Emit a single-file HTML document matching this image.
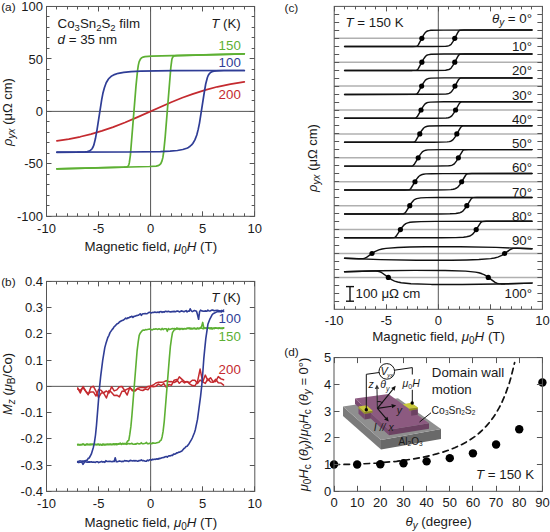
<!DOCTYPE html>
<html><head><meta charset="utf-8"><style>
html,body{margin:0;padding:0;background:#fff;}
svg{display:block;}
text{font-family:"Liberation Sans", sans-serif;}
</style></head><body>
<svg width="550" height="532" viewBox="0 0 550 532">
<rect width="550" height="532" fill="#fff"/>
<line x1="46.50" y1="111.39" x2="254.66" y2="111.39" stroke="#555" stroke-width="1" />
<line x1="150.58" y1="6.47" x2="150.58" y2="216.30" stroke="#555" stroke-width="1" />
<path d="M56.9,140.9 L68.8,139.1 L80.2,136.8 L91.0,134.1 L101.9,130.9 L113.1,127.1 L125.0,122.5 L137.0,117.4 L171.2,102.3 L182.2,97.8 L192.4,94.1 L204.9,90.1 L217.4,86.8 L230.5,84.1 L244.3,81.8" fill="none" stroke="#c42a2f" stroke-width="1.7" stroke-linejoin="round" stroke-linecap="round" />
<path d="M56.9,168.9 L123.9,167.2 L126.8,166.9 L127.7,166.5 L128.3,165.9 L128.9,164.5 L129.3,162.9 L130.4,155.1 L136.0,85.9 L137.5,71.0 L138.3,65.4 L139.1,61.9 L140.4,59.1 L141.8,57.7 L143.1,57.1 L145.0,56.7 L151.6,56.2 L244.3,53.8" fill="none" stroke="#5db033" stroke-width="1.7" stroke-linejoin="round" stroke-linecap="round" />
<path d="M56.9,168.9 L149.5,166.5 L156.2,166.1 L158.1,165.7 L159.3,165.1 L160.8,163.7 L162.0,160.9 L162.9,157.4 L163.7,151.8 L165.2,136.9 L170.8,67.7 L171.8,59.9 L172.2,58.3 L172.9,56.9 L173.5,56.3 L174.3,55.9 L177.2,55.6 L244.3,53.8" fill="none" stroke="#5db033" stroke-width="1.7" stroke-linejoin="round" stroke-linecap="round" />
<path d="M56.9,152.3 L77.3,152.2 L85.0,151.9 L87.3,151.6 L89.2,151.1 L90.6,150.2 L91.9,149.0 L92.9,147.3 L93.8,145.2 L95.4,138.8 L97.1,129.3 L101.7,99.6 L102.9,93.3 L104.4,87.8 L106.2,82.8 L108.3,79.3 L109.6,77.8 L111.0,76.5 L112.7,75.4 L114.4,74.6 L118.3,73.3 L123.7,72.3 L131.0,71.6 L140.8,71.2 L173.3,70.7 L244.3,70.5" fill="none" stroke="#2f3d96" stroke-width="1.7" stroke-linejoin="round" stroke-linecap="round" />
<path d="M56.9,152.2 L127.9,152.0 L160.4,151.6 L170.1,151.1 L177.4,150.5 L182.8,149.5 L186.8,148.2 L188.5,147.4 L190.1,146.2 L191.6,144.9 L192.8,143.5 L194.9,139.9 L196.8,135.0 L198.2,129.4 L199.5,123.1 L204.1,93.5 L205.7,84.0 L207.4,77.5 L208.2,75.5 L209.3,73.8 L210.5,72.5 L212.0,71.7 L213.9,71.2 L216.2,70.8 L223.9,70.5 L244.3,70.5" fill="none" stroke="#2f3d96" stroke-width="1.7" stroke-linejoin="round" stroke-linecap="round" />
<rect x="46.50" y="6.47" width="208.16" height="209.83" fill="none" stroke="#555" stroke-width="1"/>
<line x1="46.50" y1="216.30" x2="46.50" y2="211.30" stroke="#555" stroke-width="1.0" />
<line x1="46.50" y1="6.47" x2="46.50" y2="11.47" stroke="#555" stroke-width="1.0" />
<line x1="56.50" y1="216.30" x2="56.50" y2="213.30" stroke="#555" stroke-width="1.0" />
<line x1="56.50" y1="6.47" x2="56.50" y2="9.47" stroke="#555" stroke-width="1.0" />
<line x1="67.50" y1="216.30" x2="67.50" y2="213.30" stroke="#555" stroke-width="1.0" />
<line x1="67.50" y1="6.47" x2="67.50" y2="9.47" stroke="#555" stroke-width="1.0" />
<line x1="77.50" y1="216.30" x2="77.50" y2="213.30" stroke="#555" stroke-width="1.0" />
<line x1="77.50" y1="6.47" x2="77.50" y2="9.47" stroke="#555" stroke-width="1.0" />
<line x1="88.50" y1="216.30" x2="88.50" y2="213.30" stroke="#555" stroke-width="1.0" />
<line x1="88.50" y1="6.47" x2="88.50" y2="9.47" stroke="#555" stroke-width="1.0" />
<line x1="98.50" y1="216.30" x2="98.50" y2="211.30" stroke="#555" stroke-width="1.0" />
<line x1="98.50" y1="6.47" x2="98.50" y2="11.47" stroke="#555" stroke-width="1.0" />
<line x1="108.50" y1="216.30" x2="108.50" y2="213.30" stroke="#555" stroke-width="1.0" />
<line x1="108.50" y1="6.47" x2="108.50" y2="9.47" stroke="#555" stroke-width="1.0" />
<line x1="119.50" y1="216.30" x2="119.50" y2="213.30" stroke="#555" stroke-width="1.0" />
<line x1="119.50" y1="6.47" x2="119.50" y2="9.47" stroke="#555" stroke-width="1.0" />
<line x1="129.50" y1="216.30" x2="129.50" y2="213.30" stroke="#555" stroke-width="1.0" />
<line x1="129.50" y1="6.47" x2="129.50" y2="9.47" stroke="#555" stroke-width="1.0" />
<line x1="140.50" y1="216.30" x2="140.50" y2="213.30" stroke="#555" stroke-width="1.0" />
<line x1="140.50" y1="6.47" x2="140.50" y2="9.47" stroke="#555" stroke-width="1.0" />
<line x1="150.50" y1="216.30" x2="150.50" y2="211.30" stroke="#555" stroke-width="1.0" />
<line x1="150.50" y1="6.47" x2="150.50" y2="11.47" stroke="#555" stroke-width="1.0" />
<line x1="160.50" y1="216.30" x2="160.50" y2="213.30" stroke="#555" stroke-width="1.0" />
<line x1="160.50" y1="6.47" x2="160.50" y2="9.47" stroke="#555" stroke-width="1.0" />
<line x1="171.50" y1="216.30" x2="171.50" y2="213.30" stroke="#555" stroke-width="1.0" />
<line x1="171.50" y1="6.47" x2="171.50" y2="9.47" stroke="#555" stroke-width="1.0" />
<line x1="181.50" y1="216.30" x2="181.50" y2="213.30" stroke="#555" stroke-width="1.0" />
<line x1="181.50" y1="6.47" x2="181.50" y2="9.47" stroke="#555" stroke-width="1.0" />
<line x1="192.50" y1="216.30" x2="192.50" y2="213.30" stroke="#555" stroke-width="1.0" />
<line x1="192.50" y1="6.47" x2="192.50" y2="9.47" stroke="#555" stroke-width="1.0" />
<line x1="202.50" y1="216.30" x2="202.50" y2="211.30" stroke="#555" stroke-width="1.0" />
<line x1="202.50" y1="6.47" x2="202.50" y2="11.47" stroke="#555" stroke-width="1.0" />
<line x1="213.50" y1="216.30" x2="213.50" y2="213.30" stroke="#555" stroke-width="1.0" />
<line x1="213.50" y1="6.47" x2="213.50" y2="9.47" stroke="#555" stroke-width="1.0" />
<line x1="223.50" y1="216.30" x2="223.50" y2="213.30" stroke="#555" stroke-width="1.0" />
<line x1="223.50" y1="6.47" x2="223.50" y2="9.47" stroke="#555" stroke-width="1.0" />
<line x1="233.50" y1="216.30" x2="233.50" y2="213.30" stroke="#555" stroke-width="1.0" />
<line x1="233.50" y1="6.47" x2="233.50" y2="9.47" stroke="#555" stroke-width="1.0" />
<line x1="244.50" y1="216.30" x2="244.50" y2="213.30" stroke="#555" stroke-width="1.0" />
<line x1="244.50" y1="6.47" x2="244.50" y2="9.47" stroke="#555" stroke-width="1.0" />
<line x1="254.50" y1="216.30" x2="254.50" y2="211.30" stroke="#555" stroke-width="1.0" />
<line x1="254.50" y1="6.47" x2="254.50" y2="11.47" stroke="#555" stroke-width="1.0" />
<line x1="46.50" y1="216.50" x2="51.50" y2="216.50" stroke="#555" stroke-width="1.0" />
<line x1="254.66" y1="216.50" x2="249.66" y2="216.50" stroke="#555" stroke-width="1.0" />
<line x1="46.50" y1="205.50" x2="49.50" y2="205.50" stroke="#555" stroke-width="1.0" />
<line x1="254.66" y1="205.50" x2="251.66" y2="205.50" stroke="#555" stroke-width="1.0" />
<line x1="46.50" y1="195.50" x2="49.50" y2="195.50" stroke="#555" stroke-width="1.0" />
<line x1="254.66" y1="195.50" x2="251.66" y2="195.50" stroke="#555" stroke-width="1.0" />
<line x1="46.50" y1="184.50" x2="49.50" y2="184.50" stroke="#555" stroke-width="1.0" />
<line x1="254.66" y1="184.50" x2="251.66" y2="184.50" stroke="#555" stroke-width="1.0" />
<line x1="46.50" y1="174.50" x2="49.50" y2="174.50" stroke="#555" stroke-width="1.0" />
<line x1="254.66" y1="174.50" x2="251.66" y2="174.50" stroke="#555" stroke-width="1.0" />
<line x1="46.50" y1="163.50" x2="51.50" y2="163.50" stroke="#555" stroke-width="1.0" />
<line x1="254.66" y1="163.50" x2="249.66" y2="163.50" stroke="#555" stroke-width="1.0" />
<line x1="46.50" y1="153.50" x2="49.50" y2="153.50" stroke="#555" stroke-width="1.0" />
<line x1="254.66" y1="153.50" x2="251.66" y2="153.50" stroke="#555" stroke-width="1.0" />
<line x1="46.50" y1="142.50" x2="49.50" y2="142.50" stroke="#555" stroke-width="1.0" />
<line x1="254.66" y1="142.50" x2="251.66" y2="142.50" stroke="#555" stroke-width="1.0" />
<line x1="46.50" y1="132.50" x2="49.50" y2="132.50" stroke="#555" stroke-width="1.0" />
<line x1="254.66" y1="132.50" x2="251.66" y2="132.50" stroke="#555" stroke-width="1.0" />
<line x1="46.50" y1="121.50" x2="49.50" y2="121.50" stroke="#555" stroke-width="1.0" />
<line x1="254.66" y1="121.50" x2="251.66" y2="121.50" stroke="#555" stroke-width="1.0" />
<line x1="46.50" y1="111.50" x2="51.50" y2="111.50" stroke="#555" stroke-width="1.0" />
<line x1="254.66" y1="111.50" x2="249.66" y2="111.50" stroke="#555" stroke-width="1.0" />
<line x1="46.50" y1="100.50" x2="49.50" y2="100.50" stroke="#555" stroke-width="1.0" />
<line x1="254.66" y1="100.50" x2="251.66" y2="100.50" stroke="#555" stroke-width="1.0" />
<line x1="46.50" y1="90.50" x2="49.50" y2="90.50" stroke="#555" stroke-width="1.0" />
<line x1="254.66" y1="90.50" x2="251.66" y2="90.50" stroke="#555" stroke-width="1.0" />
<line x1="46.50" y1="79.50" x2="49.50" y2="79.50" stroke="#555" stroke-width="1.0" />
<line x1="254.66" y1="79.50" x2="251.66" y2="79.50" stroke="#555" stroke-width="1.0" />
<line x1="46.50" y1="69.50" x2="49.50" y2="69.50" stroke="#555" stroke-width="1.0" />
<line x1="254.66" y1="69.50" x2="251.66" y2="69.50" stroke="#555" stroke-width="1.0" />
<line x1="46.50" y1="58.50" x2="51.50" y2="58.50" stroke="#555" stroke-width="1.0" />
<line x1="254.66" y1="58.50" x2="249.66" y2="58.50" stroke="#555" stroke-width="1.0" />
<line x1="46.50" y1="48.50" x2="49.50" y2="48.50" stroke="#555" stroke-width="1.0" />
<line x1="254.66" y1="48.50" x2="251.66" y2="48.50" stroke="#555" stroke-width="1.0" />
<line x1="46.50" y1="37.50" x2="49.50" y2="37.50" stroke="#555" stroke-width="1.0" />
<line x1="254.66" y1="37.50" x2="251.66" y2="37.50" stroke="#555" stroke-width="1.0" />
<line x1="46.50" y1="27.50" x2="49.50" y2="27.50" stroke="#555" stroke-width="1.0" />
<line x1="254.66" y1="27.50" x2="251.66" y2="27.50" stroke="#555" stroke-width="1.0" />
<line x1="46.50" y1="16.50" x2="49.50" y2="16.50" stroke="#555" stroke-width="1.0" />
<line x1="254.66" y1="16.50" x2="251.66" y2="16.50" stroke="#555" stroke-width="1.0" />
<line x1="46.50" y1="6.50" x2="51.50" y2="6.50" stroke="#555" stroke-width="1.0" />
<line x1="254.66" y1="6.50" x2="249.66" y2="6.50" stroke="#555" stroke-width="1.0" />
<text x="43.00" y="11.07" font-size="13" text-anchor="end" fill="#1a1a1a" >100</text>
<text x="43.00" y="63.53" font-size="13" text-anchor="end" fill="#1a1a1a" >50</text>
<text x="43.00" y="115.98" font-size="13" text-anchor="end" fill="#1a1a1a" >0</text>
<text x="43.00" y="168.44" font-size="13" text-anchor="end" fill="#1a1a1a" >-50</text>
<text x="43.00" y="220.90" font-size="13" text-anchor="end" fill="#1a1a1a" >-100</text>
<text x="46.50" y="232.60" font-size="13" text-anchor="middle" fill="#1a1a1a" >-10</text>
<text x="98.54" y="232.60" font-size="13" text-anchor="middle" fill="#1a1a1a" >-5</text>
<text x="150.58" y="232.60" font-size="13" text-anchor="middle" fill="#1a1a1a" >0</text>
<text x="202.62" y="232.60" font-size="13" text-anchor="middle" fill="#1a1a1a" >5</text>
<text x="254.66" y="232.60" font-size="13" text-anchor="middle" fill="#1a1a1a" >10</text>
<text x="150.80" y="250.90" font-size="13.3" text-anchor="middle" fill="#1a1a1a">Magnetic field, <tspan font-style="italic">μ</tspan><tspan font-size="10" dy="3">0</tspan><tspan dy="-3" font-style="italic">H</tspan> (T)</text>
<text transform="translate(11.9,112) rotate(-90)" font-size="13" text-anchor="middle" fill="#1a1a1a"><tspan font-style="italic">ρ</tspan><tspan font-size="10" dy="3" font-style="italic">yx</tspan><tspan dy="-3"> (μΩ cm)</tspan></text>
<text x="1.20" y="10.90" font-size="11.8" text-anchor="start" fill="#1a1a1a" >(a)</text>
<text x="57.60" y="27.60" font-size="13.3" text-anchor="start" fill="#1a1a1a" >Co<tspan font-size="9.5" dy="3">3</tspan><tspan dy="-3">Sn<tspan font-size="9.5" dy="3">2</tspan><tspan dy="-3">S<tspan font-size="9.5" dy="3">2</tspan><tspan dy="-3"> film</tspan></tspan></tspan></text>
<text x="57.60" y="44.40" font-size="13.3" text-anchor="start" fill="#1a1a1a" ><tspan font-style="italic">d</tspan> = 35 nm</text>
<text x="240.80" y="27.60" font-size="13.3" text-anchor="end" fill="#1a1a1a" ><tspan font-style="italic">T</tspan> (K)</text>
<text x="240.80" y="49.70" font-size="13.3" text-anchor="end" fill="#5db033" >150</text>
<text x="240.80" y="67.20" font-size="13.3" text-anchor="end" fill="#2f3d96" >100</text>
<text x="240.80" y="99.20" font-size="13.3" text-anchor="end" fill="#c42a2f" >200</text>
<line x1="46.50" y1="386.35" x2="254.80" y2="386.35" stroke="#555" stroke-width="1" />
<line x1="150.65" y1="281.40" x2="150.65" y2="491.30" stroke="#555" stroke-width="1" />
<path d="M77.7,387.9 L80.3,393.0 L83.0,386.5 L85.6,390.9 L88.2,393.7 L90.8,391.9 L93.4,391.9 L96.0,396.0 L98.6,389.4 L101.2,390.4 L103.8,393.3 L106.4,398.0 L109.0,390.6 L111.6,392.4 L114.2,395.5 L116.8,395.2 L119.4,396.9 L122.0,391.3 L124.6,390.9 L127.2,395.0 L129.8,387.3 L132.4,390.7 L135.0,391.0 L137.6,388.8 L140.2,389.9 L142.8,390.5 L145.4,389.0 L148.0,389.7 L150.7,386.3 L153.3,386.7 L155.9,386.2 L158.5,384.1 L161.1,385.7 L163.7,383.5 L166.3,387.3 L168.9,384.5 L171.5,385.2 L174.1,380.2 L176.7,379.5 L179.3,383.3 L181.9,381.0 L184.5,382.9 L187.1,381.5 L189.7,383.9 L192.3,385.6 L194.9,385.8 L197.5,381.7 L200.1,369.1 L202.7,381.9 L205.3,383.4 L207.9,378.9 L210.5,382.0 L213.1,382.2 L215.7,379.3 L218.3,382.7 L221.0,383.0 L223.6,385.1" fill="none" stroke="#c42a2f" stroke-width="1.5" stroke-linejoin="round" stroke-linecap="round" />
<path d="M77.7,389.1 L80.3,390.5 L83.0,387.5 L88.2,394.8 L90.8,387.4 L93.4,386.3 L96.0,391.2 L98.6,397.6 L101.2,393.1 L103.8,392.7 L106.4,391.0 L109.0,393.0 L111.6,386.7 L114.2,390.9 L116.8,389.9 L119.4,386.7 L122.0,386.5 L124.6,390.5 L127.2,389.1 L129.8,387.9 L132.4,389.9 L135.0,390.6 L137.6,388.3 L140.2,387.6 L142.8,387.4 L145.4,387.8 L148.0,386.5 L150.7,386.0 L153.3,385.0 L155.9,383.0 L158.5,382.2 L161.1,382.3 L163.7,381.9 L166.3,380.7 L168.9,381.7 L171.5,381.6 L174.1,382.5 L176.7,381.3 L179.3,376.9 L184.5,381.6 L187.1,381.8 L189.7,382.5 L192.3,380.2 L194.9,380.2 L197.5,383.5 L200.1,380.0 L202.7,381.9 L205.3,375.1 L207.9,380.6 L210.5,377.7 L213.1,381.7 L215.7,381.4 L218.3,376.6 L221.0,378.9 L223.6,379.8" fill="none" stroke="#c42a2f" stroke-width="1.5" stroke-linejoin="round" stroke-linecap="round" />
<path d="M77.7,445.0 L78.8,444.5 L81.9,444.8 L83.0,444.0 L84.0,444.7 L85.0,444.9 L86.1,444.4 L88.2,444.6 L89.2,444.3 L91.3,444.4 L92.3,444.2 L94.4,444.7 L96.5,444.7 L97.5,444.4 L99.6,445.1 L100.7,444.4 L101.7,444.9 L102.7,445.0 L103.8,444.3 L104.8,444.6 L105.9,444.2 L107.9,444.7 L109.0,444.7 L111.1,444.4 L112.1,444.5 L113.2,444.3 L114.2,444.7 L115.2,444.1 L116.3,444.7 L118.4,443.8 L120.4,443.4 L121.5,444.4 L122.5,443.7 L123.6,443.5 L124.6,443.5 L125.7,443.8 L126.7,442.7 L127.7,441.0 L128.8,440.4 L129.8,434.4 L130.9,426.4 L131.9,415.6 L137.1,350.8 L138.2,341.8 L139.2,335.3 L140.2,333.2 L141.3,331.7 L142.3,330.6 L143.4,330.1 L144.4,330.3 L145.4,329.5 L146.5,329.8 L149.6,329.0 L150.6,329.3 L151.7,329.9 L152.7,329.7 L153.8,329.0 L154.8,329.3 L155.9,328.8 L157.9,329.4 L159.0,328.8 L161.1,329.7 L162.1,328.4 L163.1,329.6 L164.2,328.8 L165.2,328.7 L166.3,328.9 L167.3,331.3 L168.4,328.6 L169.4,329.4 L170.4,329.3 L172.5,328.6 L173.6,328.8 L174.6,328.6 L175.6,328.9 L176.7,328.8 L177.7,329.1 L179.8,328.5 L180.9,328.8 L181.9,328.5 L182.9,328.8 L186.1,328.7 L187.1,328.4 L188.1,328.5 L189.2,328.0 L190.2,328.6 L191.3,328.6 L192.3,328.8 L194.4,328.2 L195.4,328.7 L197.5,328.2 L199.6,328.5 L200.6,328.0 L201.7,326.2 L202.7,322.4 L203.8,327.9 L204.8,327.9 L205.8,328.4 L206.9,328.4 L207.9,328.2 L209.0,328.3 L210.0,328.8 L211.1,327.8 L212.1,328.2 L213.1,328.0 L214.2,328.6 L215.2,327.8 L216.3,328.3 L217.3,328.2 L218.3,328.6 L219.4,328.2 L221.5,328.2 L222.5,328.0 L223.6,328.1" fill="none" stroke="#5db033" stroke-width="1.6" stroke-linejoin="round" stroke-linecap="round" />
<path d="M77.7,444.3 L78.8,444.7 L79.8,444.9 L83.0,444.2 L84.0,444.3 L85.0,445.1 L86.1,444.4 L87.1,444.1 L88.2,444.5 L89.2,444.7 L90.2,444.4 L91.3,444.6 L92.3,444.3 L93.4,444.5 L94.4,444.0 L96.5,444.6 L97.5,444.2 L98.6,444.1 L99.6,444.5 L100.7,444.5 L101.7,445.1 L102.7,444.0 L104.8,445.0 L105.9,444.8 L107.9,444.0 L109.0,444.2 L110.0,444.0 L111.1,444.5 L112.1,444.6 L113.2,443.9 L115.2,444.1 L116.3,443.7 L117.3,444.4 L118.4,444.2 L120.4,443.4 L121.5,444.0 L122.5,443.4 L123.6,444.1 L124.6,443.8 L125.7,443.9 L126.7,444.4 L127.7,443.8 L128.8,443.5 L129.8,443.9 L130.9,443.8 L131.9,443.3 L132.9,444.1 L134.0,444.2 L135.0,443.9 L136.1,444.1 L137.1,443.3 L139.2,443.9 L140.2,443.8 L141.3,442.7 L142.3,443.8 L143.4,443.8 L145.4,443.3 L146.5,442.4 L147.5,443.7 L148.6,443.8 L149.6,443.2 L150.6,443.3 L151.7,443.8 L152.7,442.9 L154.8,443.2 L155.9,443.1 L159.0,442.2 L160.0,440.9 L161.1,440.2 L162.1,436.9 L163.1,431.4 L164.2,421.9 L165.2,409.8 L169.4,357.6 L170.4,346.3 L171.5,338.3 L172.5,332.6 L174.6,329.4 L175.6,329.4 L176.7,328.1 L177.7,328.2 L179.8,329.5 L180.9,328.7 L181.9,328.7 L182.9,329.4 L184.0,328.6 L186.1,328.8 L187.1,328.3 L188.1,328.2 L189.2,328.6 L190.2,328.4 L192.3,328.6 L194.4,328.2 L196.5,329.0 L197.5,328.1 L198.6,328.8 L200.6,327.7 L202.7,328.6 L203.8,328.7 L204.8,327.8 L205.8,328.2 L207.9,327.9 L211.1,328.4 L212.1,329.1 L214.2,328.1 L216.3,328.0 L217.3,328.2 L219.4,327.9 L220.4,328.4 L221.5,328.2 L222.5,328.6 L223.6,327.8" fill="none" stroke="#5db033" stroke-width="1.6" stroke-linejoin="round" stroke-linecap="round" />
<path d="M77.7,461.6 L78.8,461.4 L79.8,460.9 L80.9,461.0 L81.9,461.3 L83.0,460.9 L84.0,461.6 L85.0,460.7 L86.1,460.4 L87.1,460.4 L88.2,458.3 L89.2,458.0 L91.3,454.2 L93.4,447.2 L94.4,442.6 L95.5,435.0 L96.5,425.2 L99.6,386.6 L100.7,376.2 L102.7,360.4 L104.8,347.6 L105.9,343.6 L107.9,337.3 L109.0,335.3 L110.0,332.6 L112.1,329.6 L113.2,328.4 L114.2,326.6 L115.2,325.9 L116.3,324.6 L117.3,323.7 L118.4,323.3 L119.4,322.0 L121.5,320.8 L123.6,320.0 L125.7,318.1 L126.7,318.8 L127.7,317.9 L128.8,317.9 L129.8,317.1 L130.9,316.9 L131.9,316.3 L132.9,317.5 L134.0,316.4 L135.0,316.3 L136.1,315.6 L137.1,315.6 L138.2,315.3 L140.2,313.8 L141.3,315.4 L142.3,314.1 L143.4,313.7 L145.4,313.5 L146.5,313.7 L147.5,313.4 L148.6,312.6 L149.6,312.3 L151.7,312.9 L152.7,312.4 L153.8,312.5 L154.8,312.1 L156.9,312.5 L157.9,312.1 L159.0,312.6 L160.0,311.7 L161.1,311.5 L162.1,312.4 L163.1,311.7 L164.2,312.2 L165.2,311.4 L166.3,311.4 L167.3,311.8 L168.4,311.3 L169.4,311.8 L170.4,311.9 L174.6,311.4 L175.6,311.7 L176.7,311.1 L177.7,311.0 L179.8,311.9 L180.9,311.1 L181.9,310.9 L184.0,311.8 L186.1,310.6 L187.1,311.9 L188.1,311.0 L189.2,311.2 L190.2,308.8 L191.3,310.9 L192.3,311.6 L194.4,310.5 L196.5,311.3 L197.5,314.8 L198.6,319.3 L199.6,311.6 L200.6,310.2 L201.7,310.9 L203.8,311.3 L205.8,310.9 L206.9,311.2 L207.9,310.1 L209.0,311.0 L210.0,311.0 L212.1,310.1 L213.1,310.1 L214.2,310.8 L215.2,310.5 L217.3,310.4 L218.3,310.5 L219.4,310.9 L220.4,311.1 L221.5,310.5 L222.5,311.0 L223.6,310.0" fill="none" stroke="#2f3d96" stroke-width="1.6" stroke-linejoin="round" stroke-linecap="round" />
<path d="M77.7,462.2 L78.8,462.6 L79.8,462.3 L81.9,462.2 L83.0,464.4 L85.0,461.3 L86.1,462.0 L87.1,462.1 L89.2,461.9 L90.2,462.1 L91.3,461.7 L92.3,462.3 L93.4,462.0 L95.5,462.4 L96.5,461.7 L97.5,461.7 L98.6,462.6 L101.7,461.4 L102.7,462.1 L103.8,461.8 L104.8,462.3 L105.9,460.7 L106.9,461.5 L110.0,461.3 L112.1,461.7 L113.2,461.3 L114.2,461.5 L115.2,457.8 L116.3,461.8 L117.3,461.7 L119.4,460.9 L121.5,461.6 L122.5,461.4 L123.6,461.5 L124.6,460.5 L125.7,460.9 L126.7,460.7 L128.8,461.4 L129.8,460.6 L130.9,460.4 L132.9,461.0 L134.0,460.5 L135.0,461.1 L136.1,460.6 L137.1,461.1 L138.2,461.2 L139.2,460.5 L140.2,460.6 L141.3,459.9 L142.3,460.7 L143.4,460.5 L145.4,461.2 L146.5,461.1 L147.5,460.1 L148.6,460.7 L149.6,459.7 L150.6,459.5 L151.7,460.1 L152.7,459.2 L153.8,459.6 L154.8,459.1 L155.9,459.4 L156.9,458.8 L157.9,459.3 L159.0,458.4 L160.0,458.6 L162.1,457.7 L164.2,457.4 L165.2,456.8 L166.3,456.5 L167.3,457.1 L168.4,456.0 L169.4,455.7 L170.4,455.9 L171.5,455.2 L172.5,455.5 L173.6,454.0 L174.6,454.3 L175.6,453.8 L176.7,452.8 L177.7,452.9 L178.8,452.1 L179.8,452.2 L180.9,451.4 L181.9,451.0 L184.0,448.5 L185.0,447.8 L186.1,446.5 L187.1,446.2 L189.2,443.4 L191.3,439.9 L192.3,438.0 L194.4,432.7 L195.4,429.4 L197.5,419.4 L200.6,396.2 L201.7,386.1 L202.7,374.0 L203.8,358.7 L204.8,348.4 L205.8,338.7 L207.9,324.3 L210.0,318.8 L212.1,314.8 L213.1,313.8 L217.3,311.6 L220.4,311.4 L221.5,311.9 L222.5,311.1 L223.6,311.5" fill="none" stroke="#2f3d96" stroke-width="1.6" stroke-linejoin="round" stroke-linecap="round" />
<rect x="46.50" y="281.40" width="208.30" height="209.90" fill="none" stroke="#555" stroke-width="1"/>
<line x1="46.50" y1="491.30" x2="46.50" y2="486.30" stroke="#555" stroke-width="1.0" />
<line x1="46.50" y1="281.40" x2="46.50" y2="286.40" stroke="#555" stroke-width="1.0" />
<line x1="56.50" y1="491.30" x2="56.50" y2="488.30" stroke="#555" stroke-width="1.0" />
<line x1="56.50" y1="281.40" x2="56.50" y2="284.40" stroke="#555" stroke-width="1.0" />
<line x1="67.50" y1="491.30" x2="67.50" y2="488.30" stroke="#555" stroke-width="1.0" />
<line x1="67.50" y1="281.40" x2="67.50" y2="284.40" stroke="#555" stroke-width="1.0" />
<line x1="77.50" y1="491.30" x2="77.50" y2="488.30" stroke="#555" stroke-width="1.0" />
<line x1="77.50" y1="281.40" x2="77.50" y2="284.40" stroke="#555" stroke-width="1.0" />
<line x1="88.50" y1="491.30" x2="88.50" y2="488.30" stroke="#555" stroke-width="1.0" />
<line x1="88.50" y1="281.40" x2="88.50" y2="284.40" stroke="#555" stroke-width="1.0" />
<line x1="98.50" y1="491.30" x2="98.50" y2="486.30" stroke="#555" stroke-width="1.0" />
<line x1="98.50" y1="281.40" x2="98.50" y2="286.40" stroke="#555" stroke-width="1.0" />
<line x1="108.50" y1="491.30" x2="108.50" y2="488.30" stroke="#555" stroke-width="1.0" />
<line x1="108.50" y1="281.40" x2="108.50" y2="284.40" stroke="#555" stroke-width="1.0" />
<line x1="119.50" y1="491.30" x2="119.50" y2="488.30" stroke="#555" stroke-width="1.0" />
<line x1="119.50" y1="281.40" x2="119.50" y2="284.40" stroke="#555" stroke-width="1.0" />
<line x1="129.50" y1="491.30" x2="129.50" y2="488.30" stroke="#555" stroke-width="1.0" />
<line x1="129.50" y1="281.40" x2="129.50" y2="284.40" stroke="#555" stroke-width="1.0" />
<line x1="140.50" y1="491.30" x2="140.50" y2="488.30" stroke="#555" stroke-width="1.0" />
<line x1="140.50" y1="281.40" x2="140.50" y2="284.40" stroke="#555" stroke-width="1.0" />
<line x1="150.50" y1="491.30" x2="150.50" y2="486.30" stroke="#555" stroke-width="1.0" />
<line x1="150.50" y1="281.40" x2="150.50" y2="286.40" stroke="#555" stroke-width="1.0" />
<line x1="161.50" y1="491.30" x2="161.50" y2="488.30" stroke="#555" stroke-width="1.0" />
<line x1="161.50" y1="281.40" x2="161.50" y2="284.40" stroke="#555" stroke-width="1.0" />
<line x1="171.50" y1="491.30" x2="171.50" y2="488.30" stroke="#555" stroke-width="1.0" />
<line x1="171.50" y1="281.40" x2="171.50" y2="284.40" stroke="#555" stroke-width="1.0" />
<line x1="181.50" y1="491.30" x2="181.50" y2="488.30" stroke="#555" stroke-width="1.0" />
<line x1="181.50" y1="281.40" x2="181.50" y2="284.40" stroke="#555" stroke-width="1.0" />
<line x1="192.50" y1="491.30" x2="192.50" y2="488.30" stroke="#555" stroke-width="1.0" />
<line x1="192.50" y1="281.40" x2="192.50" y2="284.40" stroke="#555" stroke-width="1.0" />
<line x1="202.50" y1="491.30" x2="202.50" y2="486.30" stroke="#555" stroke-width="1.0" />
<line x1="202.50" y1="281.40" x2="202.50" y2="286.40" stroke="#555" stroke-width="1.0" />
<line x1="213.50" y1="491.30" x2="213.50" y2="488.30" stroke="#555" stroke-width="1.0" />
<line x1="213.50" y1="281.40" x2="213.50" y2="284.40" stroke="#555" stroke-width="1.0" />
<line x1="223.50" y1="491.30" x2="223.50" y2="488.30" stroke="#555" stroke-width="1.0" />
<line x1="223.50" y1="281.40" x2="223.50" y2="284.40" stroke="#555" stroke-width="1.0" />
<line x1="233.50" y1="491.30" x2="233.50" y2="488.30" stroke="#555" stroke-width="1.0" />
<line x1="233.50" y1="281.40" x2="233.50" y2="284.40" stroke="#555" stroke-width="1.0" />
<line x1="244.50" y1="491.30" x2="244.50" y2="488.30" stroke="#555" stroke-width="1.0" />
<line x1="244.50" y1="281.40" x2="244.50" y2="284.40" stroke="#555" stroke-width="1.0" />
<line x1="254.50" y1="491.30" x2="254.50" y2="486.30" stroke="#555" stroke-width="1.0" />
<line x1="254.50" y1="281.40" x2="254.50" y2="286.40" stroke="#555" stroke-width="1.0" />
<line x1="46.50" y1="491.50" x2="51.50" y2="491.50" stroke="#555" stroke-width="1.0" />
<line x1="254.80" y1="491.50" x2="249.80" y2="491.50" stroke="#555" stroke-width="1.0" />
<line x1="46.50" y1="465.50" x2="51.50" y2="465.50" stroke="#555" stroke-width="1.0" />
<line x1="254.80" y1="465.50" x2="249.80" y2="465.50" stroke="#555" stroke-width="1.0" />
<line x1="46.50" y1="438.50" x2="51.50" y2="438.50" stroke="#555" stroke-width="1.0" />
<line x1="254.80" y1="438.50" x2="249.80" y2="438.50" stroke="#555" stroke-width="1.0" />
<line x1="46.50" y1="412.50" x2="51.50" y2="412.50" stroke="#555" stroke-width="1.0" />
<line x1="254.80" y1="412.50" x2="249.80" y2="412.50" stroke="#555" stroke-width="1.0" />
<line x1="46.50" y1="386.50" x2="51.50" y2="386.50" stroke="#555" stroke-width="1.0" />
<line x1="254.80" y1="386.50" x2="249.80" y2="386.50" stroke="#555" stroke-width="1.0" />
<line x1="46.50" y1="360.50" x2="51.50" y2="360.50" stroke="#555" stroke-width="1.0" />
<line x1="254.80" y1="360.50" x2="249.80" y2="360.50" stroke="#555" stroke-width="1.0" />
<line x1="46.50" y1="333.50" x2="51.50" y2="333.50" stroke="#555" stroke-width="1.0" />
<line x1="254.80" y1="333.50" x2="249.80" y2="333.50" stroke="#555" stroke-width="1.0" />
<line x1="46.50" y1="307.50" x2="51.50" y2="307.50" stroke="#555" stroke-width="1.0" />
<line x1="254.80" y1="307.50" x2="249.80" y2="307.50" stroke="#555" stroke-width="1.0" />
<line x1="46.50" y1="281.50" x2="51.50" y2="281.50" stroke="#555" stroke-width="1.0" />
<line x1="254.80" y1="281.50" x2="249.80" y2="281.50" stroke="#555" stroke-width="1.0" />
<text x="43.00" y="495.90" font-size="13" text-anchor="end" fill="#1a1a1a" >-0.4</text>
<text x="43.00" y="469.66" font-size="13" text-anchor="end" fill="#1a1a1a" >-0.3</text>
<text x="43.00" y="443.43" font-size="13" text-anchor="end" fill="#1a1a1a" >-0.2</text>
<text x="43.00" y="417.19" font-size="13" text-anchor="end" fill="#1a1a1a" >-0.1</text>
<text x="43.00" y="390.95" font-size="13" text-anchor="end" fill="#1a1a1a" >0</text>
<text x="43.00" y="364.71" font-size="13" text-anchor="end" fill="#1a1a1a" >0.1</text>
<text x="43.00" y="338.48" font-size="13" text-anchor="end" fill="#1a1a1a" >0.2</text>
<text x="43.00" y="312.24" font-size="13" text-anchor="end" fill="#1a1a1a" >0.3</text>
<text x="43.00" y="286.00" font-size="13" text-anchor="end" fill="#1a1a1a" >0.4</text>
<text x="46.50" y="508.00" font-size="13" text-anchor="middle" fill="#1a1a1a" >-10</text>
<text x="98.58" y="508.00" font-size="13" text-anchor="middle" fill="#1a1a1a" >-5</text>
<text x="150.65" y="508.00" font-size="13" text-anchor="middle" fill="#1a1a1a" >0</text>
<text x="202.73" y="508.00" font-size="13" text-anchor="middle" fill="#1a1a1a" >5</text>
<text x="254.80" y="508.00" font-size="13" text-anchor="middle" fill="#1a1a1a" >10</text>
<text x="150.80" y="526.60" font-size="13.3" text-anchor="middle" fill="#1a1a1a">Magnetic field, <tspan font-style="italic">μ</tspan><tspan font-size="10" dy="3">0</tspan><tspan dy="-3" font-style="italic">H</tspan> (T)</text>
<text transform="translate(12.4,384) rotate(-90)" font-size="13" text-anchor="middle" fill="#1a1a1a"><tspan font-style="italic">M</tspan><tspan font-size="10" dy="3" font-style="italic">z</tspan><tspan dy="-3"> (</tspan><tspan font-style="italic">μ</tspan><tspan font-size="10" dy="3">B</tspan><tspan dy="-3">/Co)</tspan></text>
<text x="1.20" y="286.00" font-size="11.8" text-anchor="start" fill="#1a1a1a" >(b)</text>
<text x="240.80" y="301.80" font-size="13.3" text-anchor="end" fill="#1a1a1a" ><tspan font-style="italic">T</tspan> (K)</text>
<text x="240.80" y="323.30" font-size="13.3" text-anchor="end" fill="#2f3d96" >100</text>
<text x="240.80" y="341.40" font-size="13.3" text-anchor="end" fill="#5db033" >150</text>
<text x="240.80" y="373.90" font-size="13.3" text-anchor="end" fill="#c42a2f" >200</text>
<line x1="334.20" y1="38.28" x2="542.40" y2="38.28" stroke="#b0b0b0" stroke-width="1.5" />
<line x1="334.20" y1="62.20" x2="542.40" y2="62.20" stroke="#b0b0b0" stroke-width="1.5" />
<line x1="334.20" y1="86.11" x2="542.40" y2="86.11" stroke="#b0b0b0" stroke-width="1.5" />
<line x1="334.20" y1="110.02" x2="542.40" y2="110.02" stroke="#b0b0b0" stroke-width="1.5" />
<line x1="334.20" y1="133.94" x2="542.40" y2="133.94" stroke="#b0b0b0" stroke-width="1.5" />
<line x1="334.20" y1="157.85" x2="542.40" y2="157.85" stroke="#b0b0b0" stroke-width="1.5" />
<line x1="334.20" y1="181.76" x2="542.40" y2="181.76" stroke="#b0b0b0" stroke-width="1.5" />
<line x1="334.20" y1="205.68" x2="542.40" y2="205.68" stroke="#b0b0b0" stroke-width="1.5" />
<line x1="334.20" y1="229.59" x2="542.40" y2="229.59" stroke="#b0b0b0" stroke-width="1.5" />
<line x1="334.20" y1="253.50" x2="542.40" y2="253.50" stroke="#b0b0b0" stroke-width="1.5" />
<line x1="334.20" y1="277.42" x2="542.40" y2="277.42" stroke="#b0b0b0" stroke-width="1.5" />
<line x1="438.30" y1="6.40" x2="438.30" y2="309.30" stroke="#555" stroke-width="1" />
<path d="M344.6,46.5 L412.7,46.5 L416.4,46.4 L417.5,45.9 L418.3,44.9 L423.5,35.2 L425.2,32.7 L426.2,31.7 L427.5,31.0 L428.9,30.6 L430.8,30.3 L443.7,30.1 L532.0,30.0" fill="none" stroke="#111" stroke-width="1.45" stroke-linejoin="round" stroke-linecap="round" />
<path d="M344.6,46.5 L432.9,46.5 L445.8,46.2 L447.7,46.0 L449.1,45.6 L450.4,44.9 L451.4,43.9 L453.1,41.4 L458.3,31.7 L459.1,30.7 L460.2,30.2 L463.9,30.0 L532.0,30.0" fill="none" stroke="#111" stroke-width="1.45" stroke-linejoin="round" stroke-linecap="round" />
<circle cx="421.85" cy="38.28" r="2.6" fill="#000"/>
<circle cx="454.75" cy="38.28" r="2.6" fill="#000"/>
<path d="M344.6,70.4 L412.3,70.4 L416.2,70.3 L417.3,69.9 L418.3,68.7 L423.5,59.1 L425.4,56.5 L426.4,55.5 L427.7,54.9 L431.0,54.2 L444.1,54.0 L532.0,53.9" fill="none" stroke="#111" stroke-width="1.45" stroke-linejoin="round" stroke-linecap="round" />
<path d="M344.6,70.4 L432.5,70.4 L445.6,70.2 L448.9,69.5 L450.2,68.9 L451.2,67.9 L453.1,65.2 L458.3,55.7 L459.3,54.5 L460.4,54.1 L464.3,53.9 L532.0,53.9" fill="none" stroke="#111" stroke-width="1.45" stroke-linejoin="round" stroke-linecap="round" />
<circle cx="421.85" cy="62.20" r="2.6" fill="#000"/>
<circle cx="454.75" cy="62.20" r="2.6" fill="#000"/>
<path d="M344.6,94.4 L415.8,94.2 L416.9,93.9 L417.9,92.8 L423.3,83.1 L425.2,80.4 L426.2,79.5 L427.5,78.9 L428.9,78.4 L431.0,78.1 L444.3,77.9 L532.0,77.9" fill="none" stroke="#111" stroke-width="1.45" stroke-linejoin="round" stroke-linecap="round" />
<path d="M344.6,94.4 L432.3,94.3 L445.6,94.1 L447.7,93.8 L449.1,93.4 L450.4,92.7 L451.4,91.8 L453.3,89.1 L458.7,79.4 L459.7,78.4 L460.8,78.0 L532.0,77.9" fill="none" stroke="#111" stroke-width="1.45" stroke-linejoin="round" stroke-linecap="round" />
<circle cx="421.64" cy="86.11" r="2.6" fill="#000"/>
<circle cx="454.96" cy="86.11" r="2.6" fill="#000"/>
<path d="M344.6,118.3 L411.2,118.3 L415.2,118.1 L416.2,117.7 L417.3,116.6 L422.7,107.1 L424.6,104.4 L425.6,103.5 L426.8,102.8 L428.3,102.4 L430.4,102.1 L443.7,101.8 L532.0,101.8" fill="none" stroke="#111" stroke-width="1.45" stroke-linejoin="round" stroke-linecap="round" />
<path d="M344.6,118.3 L432.9,118.3 L446.2,118.0 L448.3,117.7 L449.8,117.2 L451.0,116.5 L452.0,115.6 L453.9,112.9 L459.3,103.5 L460.4,102.3 L461.4,101.9 L465.4,101.8 L532.0,101.8" fill="none" stroke="#111" stroke-width="1.45" stroke-linejoin="round" stroke-linecap="round" />
<circle cx="421.02" cy="110.02" r="2.6" fill="#000"/>
<circle cx="455.58" cy="110.02" r="2.6" fill="#000"/>
<path d="M344.6,142.2 L409.8,142.2 L413.7,142.1 L414.8,141.7 L415.8,140.7 L421.6,130.7 L423.5,128.2 L424.6,127.3 L425.8,126.7 L427.3,126.3 L429.3,126.0 L442.9,125.7 L532.0,125.7" fill="none" stroke="#111" stroke-width="1.45" stroke-linejoin="round" stroke-linecap="round" />
<path d="M344.6,142.2 L433.7,142.2 L447.3,141.9 L449.3,141.6 L450.8,141.2 L452.0,140.5 L453.1,139.6 L455.0,137.1 L460.8,127.2 L461.8,126.2 L462.9,125.8 L466.8,125.7 L532.0,125.7" fill="none" stroke="#111" stroke-width="1.45" stroke-linejoin="round" stroke-linecap="round" />
<circle cx="419.77" cy="133.94" r="2.6" fill="#000"/>
<circle cx="456.83" cy="133.94" r="2.6" fill="#000"/>
<path d="M344.6,166.1 L408.1,166.1 L412.1,166.0 L413.1,165.6 L414.1,164.6 L420.2,154.6 L422.1,152.1 L423.1,151.3 L424.4,150.6 L425.8,150.2 L427.9,149.9 L441.6,149.6 L532.0,149.6" fill="none" stroke="#111" stroke-width="1.45" stroke-linejoin="round" stroke-linecap="round" />
<path d="M344.6,166.1 L435.0,166.1 L448.7,165.8 L450.8,165.5 L452.2,165.1 L453.5,164.4 L454.5,163.6 L456.4,161.1 L462.5,151.1 L463.5,150.1 L464.5,149.7 L468.5,149.6 L532.0,149.6" fill="none" stroke="#111" stroke-width="1.45" stroke-linejoin="round" stroke-linecap="round" />
<circle cx="418.21" cy="157.85" r="2.6" fill="#000"/>
<circle cx="458.39" cy="157.85" r="2.6" fill="#000"/>
<path d="M344.6,190.0 L404.8,190.0 L408.7,189.9 L409.8,189.5 L410.8,188.5 L416.6,179.1 L418.7,176.5 L420.0,175.5 L421.4,174.8 L423.3,174.3 L425.8,173.9 L431.6,173.7 L442.7,173.6 L532.0,173.5" fill="none" stroke="#111" stroke-width="1.45" stroke-linejoin="round" stroke-linecap="round" />
<path d="M344.6,190.0 L433.9,190.0 L445.0,189.9 L450.8,189.6 L453.3,189.3 L455.2,188.7 L456.6,188.0 L457.9,187.1 L460.0,184.5 L465.8,175.0 L466.8,174.0 L467.9,173.7 L471.8,173.5 L532.0,173.5" fill="none" stroke="#111" stroke-width="1.45" stroke-linejoin="round" stroke-linecap="round" />
<circle cx="414.98" cy="181.76" r="2.6" fill="#000"/>
<circle cx="461.62" cy="181.76" r="2.6" fill="#000"/>
<path d="M344.6,213.9 L399.6,213.9 L403.5,213.7 L404.6,213.3 L405.6,212.3 L411.4,203.0 L413.7,200.3 L415.0,199.3 L416.6,198.6 L420.8,197.9 L426.6,197.6 L438.1,197.5 L532.0,197.4" fill="none" stroke="#111" stroke-width="1.45" stroke-linejoin="round" stroke-linecap="round" />
<path d="M344.6,213.9 L438.5,213.9 L450.0,213.8 L455.8,213.5 L460.0,212.7 L461.6,212.0 L462.9,211.1 L465.2,208.3 L471.0,199.1 L472.0,198.0 L473.1,197.6 L477.0,197.4 L532.0,197.4" fill="none" stroke="#111" stroke-width="1.45" stroke-linejoin="round" stroke-linecap="round" />
<circle cx="409.78" cy="205.68" r="2.6" fill="#000"/>
<circle cx="466.82" cy="205.68" r="2.6" fill="#000"/>
<path d="M344.6,237.8 L390.4,237.8 L394.2,237.6 L395.2,237.2 L396.2,236.1 L401.9,227.4 L404.2,224.8 L405.8,223.6 L407.7,222.9 L410.0,222.3 L413.1,222.0 L420.8,221.6 L435.2,221.4 L532.0,221.3" fill="none" stroke="#111" stroke-width="1.45" stroke-linejoin="round" stroke-linecap="round" />
<path d="M344.6,237.8 L441.4,237.7 L455.8,237.6 L463.5,237.2 L466.6,236.8 L468.9,236.3 L470.8,235.5 L472.4,234.4 L474.7,231.8 L480.4,223.1 L481.4,222.0 L482.4,221.6 L486.2,221.3 L532.0,221.3" fill="none" stroke="#111" stroke-width="1.45" stroke-linejoin="round" stroke-linecap="round" />
<circle cx="400.41" cy="229.59" r="2.6" fill="#000"/>
<circle cx="476.19" cy="229.59" r="2.6" fill="#000"/>
<path d="M344.6,258.2 L359.0,258.8 L363.3,258.6 L364.8,258.2 L366.5,257.3 L374.8,251.6 L378.8,249.9 L382.1,249.0 L386.0,248.4 L397.7,247.5 L409.8,247.0 L425.2,246.7 L460.4,246.7 L496.0,247.4 L532.0,248.8" fill="none" stroke="#111" stroke-width="1.45" stroke-linejoin="round" stroke-linecap="round" />
<path d="M344.6,258.2 L380.6,259.6 L416.2,260.3 L451.4,260.3 L466.8,260.0 L478.9,259.5 L490.6,258.6 L494.5,258.0 L497.8,257.1 L501.8,255.4 L510.1,249.7 L511.8,248.8 L513.3,248.4 L517.6,248.2 L532.0,248.8" fill="none" stroke="#111" stroke-width="1.45" stroke-linejoin="round" stroke-linecap="round" />
<circle cx="371.99" cy="253.50" r="2.6" fill="#000"/>
<circle cx="504.61" cy="253.50" r="2.6" fill="#000"/>
<path d="M344.6,271.7 L371.5,271.0 L375.6,271.0 L378.1,271.2 L379.8,271.7 L381.5,272.5 L390.4,278.9 L392.5,280.1 L394.6,281.1 L397.7,282.0 L401.2,282.7 L411.0,283.7 L431.4,284.4 L462.2,284.5 L496.6,284.0 L532.0,283.1" fill="none" stroke="#111" stroke-width="1.45" stroke-linejoin="round" stroke-linecap="round" />
<path d="M344.6,271.8 L380.0,270.8 L414.4,270.4 L445.2,270.5 L465.6,271.1 L475.4,272.1 L478.9,272.8 L482.0,273.8 L484.1,274.7 L486.2,275.9 L495.1,282.4 L496.8,283.2 L498.5,283.6 L501.0,283.9 L505.1,283.9 L532.0,283.1" fill="none" stroke="#111" stroke-width="1.45" stroke-linejoin="round" stroke-linecap="round" />
<circle cx="388.33" cy="277.42" r="2.6" fill="#000"/>
<circle cx="488.27" cy="277.42" r="2.6" fill="#000"/>
<rect x="334.20" y="6.40" width="208.20" height="302.90" fill="none" stroke="#555" stroke-width="1"/>
<line x1="334.50" y1="309.30" x2="334.50" y2="304.30" stroke="#555" stroke-width="1.0" />
<line x1="334.50" y1="6.40" x2="334.50" y2="11.40" stroke="#555" stroke-width="1.0" />
<line x1="344.50" y1="309.30" x2="344.50" y2="306.30" stroke="#555" stroke-width="1.0" />
<line x1="344.50" y1="6.40" x2="344.50" y2="9.40" stroke="#555" stroke-width="1.0" />
<line x1="355.50" y1="309.30" x2="355.50" y2="306.30" stroke="#555" stroke-width="1.0" />
<line x1="355.50" y1="6.40" x2="355.50" y2="9.40" stroke="#555" stroke-width="1.0" />
<line x1="365.50" y1="309.30" x2="365.50" y2="306.30" stroke="#555" stroke-width="1.0" />
<line x1="365.50" y1="6.40" x2="365.50" y2="9.40" stroke="#555" stroke-width="1.0" />
<line x1="375.50" y1="309.30" x2="375.50" y2="306.30" stroke="#555" stroke-width="1.0" />
<line x1="375.50" y1="6.40" x2="375.50" y2="9.40" stroke="#555" stroke-width="1.0" />
<line x1="386.50" y1="309.30" x2="386.50" y2="304.30" stroke="#555" stroke-width="1.0" />
<line x1="386.50" y1="6.40" x2="386.50" y2="11.40" stroke="#555" stroke-width="1.0" />
<line x1="396.50" y1="309.30" x2="396.50" y2="306.30" stroke="#555" stroke-width="1.0" />
<line x1="396.50" y1="6.40" x2="396.50" y2="9.40" stroke="#555" stroke-width="1.0" />
<line x1="407.50" y1="309.30" x2="407.50" y2="306.30" stroke="#555" stroke-width="1.0" />
<line x1="407.50" y1="6.40" x2="407.50" y2="9.40" stroke="#555" stroke-width="1.0" />
<line x1="417.50" y1="309.30" x2="417.50" y2="306.30" stroke="#555" stroke-width="1.0" />
<line x1="417.50" y1="6.40" x2="417.50" y2="9.40" stroke="#555" stroke-width="1.0" />
<line x1="427.50" y1="309.30" x2="427.50" y2="306.30" stroke="#555" stroke-width="1.0" />
<line x1="427.50" y1="6.40" x2="427.50" y2="9.40" stroke="#555" stroke-width="1.0" />
<line x1="438.50" y1="309.30" x2="438.50" y2="304.30" stroke="#555" stroke-width="1.0" />
<line x1="438.50" y1="6.40" x2="438.50" y2="11.40" stroke="#555" stroke-width="1.0" />
<line x1="448.50" y1="309.30" x2="448.50" y2="306.30" stroke="#555" stroke-width="1.0" />
<line x1="448.50" y1="6.40" x2="448.50" y2="9.40" stroke="#555" stroke-width="1.0" />
<line x1="459.50" y1="309.30" x2="459.50" y2="306.30" stroke="#555" stroke-width="1.0" />
<line x1="459.50" y1="6.40" x2="459.50" y2="9.40" stroke="#555" stroke-width="1.0" />
<line x1="469.50" y1="309.30" x2="469.50" y2="306.30" stroke="#555" stroke-width="1.0" />
<line x1="469.50" y1="6.40" x2="469.50" y2="9.40" stroke="#555" stroke-width="1.0" />
<line x1="479.50" y1="309.30" x2="479.50" y2="306.30" stroke="#555" stroke-width="1.0" />
<line x1="479.50" y1="6.40" x2="479.50" y2="9.40" stroke="#555" stroke-width="1.0" />
<line x1="490.50" y1="309.30" x2="490.50" y2="304.30" stroke="#555" stroke-width="1.0" />
<line x1="490.50" y1="6.40" x2="490.50" y2="11.40" stroke="#555" stroke-width="1.0" />
<line x1="500.50" y1="309.30" x2="500.50" y2="306.30" stroke="#555" stroke-width="1.0" />
<line x1="500.50" y1="6.40" x2="500.50" y2="9.40" stroke="#555" stroke-width="1.0" />
<line x1="511.50" y1="309.30" x2="511.50" y2="306.30" stroke="#555" stroke-width="1.0" />
<line x1="511.50" y1="6.40" x2="511.50" y2="9.40" stroke="#555" stroke-width="1.0" />
<line x1="521.50" y1="309.30" x2="521.50" y2="306.30" stroke="#555" stroke-width="1.0" />
<line x1="521.50" y1="6.40" x2="521.50" y2="9.40" stroke="#555" stroke-width="1.0" />
<line x1="531.50" y1="309.30" x2="531.50" y2="306.30" stroke="#555" stroke-width="1.0" />
<line x1="531.50" y1="6.40" x2="531.50" y2="9.40" stroke="#555" stroke-width="1.0" />
<line x1="542.50" y1="309.30" x2="542.50" y2="304.30" stroke="#555" stroke-width="1.0" />
<line x1="542.50" y1="6.40" x2="542.50" y2="11.40" stroke="#555" stroke-width="1.0" />
<line x1="334.20" y1="14.50" x2="339.20" y2="14.50" stroke="#555" stroke-width="1.0" />
<line x1="542.40" y1="14.50" x2="537.40" y2="14.50" stroke="#555" stroke-width="1.0" />
<line x1="334.20" y1="22.50" x2="339.20" y2="22.50" stroke="#555" stroke-width="1.0" />
<line x1="542.40" y1="22.50" x2="537.40" y2="22.50" stroke="#555" stroke-width="1.0" />
<line x1="334.20" y1="30.50" x2="339.20" y2="30.50" stroke="#555" stroke-width="1.0" />
<line x1="542.40" y1="30.50" x2="537.40" y2="30.50" stroke="#555" stroke-width="1.0" />
<line x1="334.20" y1="38.50" x2="339.20" y2="38.50" stroke="#555" stroke-width="1.0" />
<line x1="542.40" y1="38.50" x2="537.40" y2="38.50" stroke="#555" stroke-width="1.0" />
<line x1="334.20" y1="46.50" x2="339.20" y2="46.50" stroke="#555" stroke-width="1.0" />
<line x1="542.40" y1="46.50" x2="537.40" y2="46.50" stroke="#555" stroke-width="1.0" />
<line x1="334.20" y1="54.50" x2="339.20" y2="54.50" stroke="#555" stroke-width="1.0" />
<line x1="542.40" y1="54.50" x2="537.40" y2="54.50" stroke="#555" stroke-width="1.0" />
<line x1="334.20" y1="62.50" x2="339.20" y2="62.50" stroke="#555" stroke-width="1.0" />
<line x1="542.40" y1="62.50" x2="537.40" y2="62.50" stroke="#555" stroke-width="1.0" />
<line x1="334.20" y1="70.50" x2="339.20" y2="70.50" stroke="#555" stroke-width="1.0" />
<line x1="542.40" y1="70.50" x2="537.40" y2="70.50" stroke="#555" stroke-width="1.0" />
<line x1="334.20" y1="78.50" x2="339.20" y2="78.50" stroke="#555" stroke-width="1.0" />
<line x1="542.40" y1="78.50" x2="537.40" y2="78.50" stroke="#555" stroke-width="1.0" />
<line x1="334.20" y1="86.50" x2="339.20" y2="86.50" stroke="#555" stroke-width="1.0" />
<line x1="542.40" y1="86.50" x2="537.40" y2="86.50" stroke="#555" stroke-width="1.0" />
<line x1="334.20" y1="94.50" x2="339.20" y2="94.50" stroke="#555" stroke-width="1.0" />
<line x1="542.40" y1="94.50" x2="537.40" y2="94.50" stroke="#555" stroke-width="1.0" />
<line x1="334.20" y1="102.50" x2="339.20" y2="102.50" stroke="#555" stroke-width="1.0" />
<line x1="542.40" y1="102.50" x2="537.40" y2="102.50" stroke="#555" stroke-width="1.0" />
<line x1="334.20" y1="110.50" x2="339.20" y2="110.50" stroke="#555" stroke-width="1.0" />
<line x1="542.40" y1="110.50" x2="537.40" y2="110.50" stroke="#555" stroke-width="1.0" />
<line x1="334.20" y1="117.50" x2="339.20" y2="117.50" stroke="#555" stroke-width="1.0" />
<line x1="542.40" y1="117.50" x2="537.40" y2="117.50" stroke="#555" stroke-width="1.0" />
<line x1="334.20" y1="125.50" x2="339.20" y2="125.50" stroke="#555" stroke-width="1.0" />
<line x1="542.40" y1="125.50" x2="537.40" y2="125.50" stroke="#555" stroke-width="1.0" />
<line x1="334.20" y1="133.50" x2="339.20" y2="133.50" stroke="#555" stroke-width="1.0" />
<line x1="542.40" y1="133.50" x2="537.40" y2="133.50" stroke="#555" stroke-width="1.0" />
<line x1="334.20" y1="141.50" x2="339.20" y2="141.50" stroke="#555" stroke-width="1.0" />
<line x1="542.40" y1="141.50" x2="537.40" y2="141.50" stroke="#555" stroke-width="1.0" />
<line x1="334.20" y1="149.50" x2="339.20" y2="149.50" stroke="#555" stroke-width="1.0" />
<line x1="542.40" y1="149.50" x2="537.40" y2="149.50" stroke="#555" stroke-width="1.0" />
<line x1="334.20" y1="157.50" x2="339.20" y2="157.50" stroke="#555" stroke-width="1.0" />
<line x1="542.40" y1="157.50" x2="537.40" y2="157.50" stroke="#555" stroke-width="1.0" />
<line x1="334.20" y1="165.50" x2="339.20" y2="165.50" stroke="#555" stroke-width="1.0" />
<line x1="542.40" y1="165.50" x2="537.40" y2="165.50" stroke="#555" stroke-width="1.0" />
<line x1="334.20" y1="173.50" x2="339.20" y2="173.50" stroke="#555" stroke-width="1.0" />
<line x1="542.40" y1="173.50" x2="537.40" y2="173.50" stroke="#555" stroke-width="1.0" />
<line x1="334.20" y1="181.50" x2="339.20" y2="181.50" stroke="#555" stroke-width="1.0" />
<line x1="542.40" y1="181.50" x2="537.40" y2="181.50" stroke="#555" stroke-width="1.0" />
<line x1="334.20" y1="189.50" x2="339.20" y2="189.50" stroke="#555" stroke-width="1.0" />
<line x1="542.40" y1="189.50" x2="537.40" y2="189.50" stroke="#555" stroke-width="1.0" />
<line x1="334.20" y1="197.50" x2="339.20" y2="197.50" stroke="#555" stroke-width="1.0" />
<line x1="542.40" y1="197.50" x2="537.40" y2="197.50" stroke="#555" stroke-width="1.0" />
<line x1="334.20" y1="205.50" x2="339.20" y2="205.50" stroke="#555" stroke-width="1.0" />
<line x1="542.40" y1="205.50" x2="537.40" y2="205.50" stroke="#555" stroke-width="1.0" />
<line x1="334.20" y1="213.50" x2="339.20" y2="213.50" stroke="#555" stroke-width="1.0" />
<line x1="542.40" y1="213.50" x2="537.40" y2="213.50" stroke="#555" stroke-width="1.0" />
<line x1="334.20" y1="221.50" x2="339.20" y2="221.50" stroke="#555" stroke-width="1.0" />
<line x1="542.40" y1="221.50" x2="537.40" y2="221.50" stroke="#555" stroke-width="1.0" />
<line x1="334.20" y1="229.50" x2="339.20" y2="229.50" stroke="#555" stroke-width="1.0" />
<line x1="542.40" y1="229.50" x2="537.40" y2="229.50" stroke="#555" stroke-width="1.0" />
<line x1="334.20" y1="237.50" x2="339.20" y2="237.50" stroke="#555" stroke-width="1.0" />
<line x1="542.40" y1="237.50" x2="537.40" y2="237.50" stroke="#555" stroke-width="1.0" />
<line x1="334.20" y1="245.50" x2="339.20" y2="245.50" stroke="#555" stroke-width="1.0" />
<line x1="542.40" y1="245.50" x2="537.40" y2="245.50" stroke="#555" stroke-width="1.0" />
<line x1="334.20" y1="253.50" x2="339.20" y2="253.50" stroke="#555" stroke-width="1.0" />
<line x1="542.40" y1="253.50" x2="537.40" y2="253.50" stroke="#555" stroke-width="1.0" />
<line x1="334.20" y1="261.50" x2="339.20" y2="261.50" stroke="#555" stroke-width="1.0" />
<line x1="542.40" y1="261.50" x2="537.40" y2="261.50" stroke="#555" stroke-width="1.0" />
<line x1="334.20" y1="269.50" x2="339.20" y2="269.50" stroke="#555" stroke-width="1.0" />
<line x1="542.40" y1="269.50" x2="537.40" y2="269.50" stroke="#555" stroke-width="1.0" />
<line x1="334.20" y1="277.50" x2="339.20" y2="277.50" stroke="#555" stroke-width="1.0" />
<line x1="542.40" y1="277.50" x2="537.40" y2="277.50" stroke="#555" stroke-width="1.0" />
<line x1="334.20" y1="285.50" x2="339.20" y2="285.50" stroke="#555" stroke-width="1.0" />
<line x1="542.40" y1="285.50" x2="537.40" y2="285.50" stroke="#555" stroke-width="1.0" />
<line x1="334.20" y1="293.50" x2="339.20" y2="293.50" stroke="#555" stroke-width="1.0" />
<line x1="542.40" y1="293.50" x2="537.40" y2="293.50" stroke="#555" stroke-width="1.0" />
<line x1="334.20" y1="301.50" x2="339.20" y2="301.50" stroke="#555" stroke-width="1.0" />
<line x1="542.40" y1="301.50" x2="537.40" y2="301.50" stroke="#555" stroke-width="1.0" />
<text x="334.20" y="325.30" font-size="13" text-anchor="middle" fill="#1a1a1a" >-10</text>
<text x="386.25" y="325.30" font-size="13" text-anchor="middle" fill="#1a1a1a" >-5</text>
<text x="438.30" y="325.30" font-size="13" text-anchor="middle" fill="#1a1a1a" >0</text>
<text x="490.35" y="325.30" font-size="13" text-anchor="middle" fill="#1a1a1a" >5</text>
<text x="542.40" y="325.30" font-size="13" text-anchor="middle" fill="#1a1a1a" >10</text>
<text x="438.60" y="341.40" font-size="13.3" text-anchor="middle" fill="#1a1a1a">Magnetic field, <tspan font-style="italic">μ</tspan><tspan font-size="10" dy="3">0</tspan><tspan dy="-3" font-style="italic">H</tspan> (T)</text>
<text transform="translate(317,158) rotate(-90)" font-size="13" text-anchor="middle" fill="#1a1a1a"><tspan font-style="italic">ρ</tspan><tspan font-size="10" dy="3" font-style="italic">yx</tspan><tspan dy="-3"> (μΩ cm)</tspan></text>
<text x="284.50" y="12.20" font-size="11.8" text-anchor="start" fill="#1a1a1a" >(c)</text>
<text x="345.50" y="26.50" font-size="13.3" text-anchor="start" fill="#1a1a1a" ><tspan font-style="italic">T</tspan> = 150 K</text>
<text x="532.00" y="23.30" font-size="13.3" text-anchor="end" fill="#1a1a1a" ><tspan font-style="italic">θ</tspan><tspan font-size="10" dy="3" font-style="italic">y</tspan><tspan dy="-3"> = 0°</tspan></text>
<text x="532.00" y="51.00" font-size="13.3" text-anchor="end" fill="#1a1a1a" >10°</text>
<text x="532.00" y="75.25" font-size="13.3" text-anchor="end" fill="#1a1a1a" >20°</text>
<text x="532.00" y="99.50" font-size="13.3" text-anchor="end" fill="#1a1a1a" >30°</text>
<text x="532.00" y="123.75" font-size="13.3" text-anchor="end" fill="#1a1a1a" >40°</text>
<text x="532.00" y="148.00" font-size="13.3" text-anchor="end" fill="#1a1a1a" >50°</text>
<text x="532.00" y="172.25" font-size="13.3" text-anchor="end" fill="#1a1a1a" >60°</text>
<text x="532.00" y="196.50" font-size="13.3" text-anchor="end" fill="#1a1a1a" >70°</text>
<text x="532.00" y="220.75" font-size="13.3" text-anchor="end" fill="#1a1a1a" >80°</text>
<text x="532.00" y="245.00" font-size="13.3" text-anchor="end" fill="#1a1a1a" >90°</text>
<text x="532.00" y="298.30" font-size="13.3" text-anchor="end" fill="#1a1a1a" >100°</text>
<line x1="350.00" y1="286.60" x2="350.00" y2="301.20" stroke="#111" stroke-width="1.4" />
<line x1="346.00" y1="286.60" x2="354.00" y2="286.60" stroke="#111" stroke-width="1.4" />
<line x1="346.00" y1="301.20" x2="354.00" y2="301.20" stroke="#111" stroke-width="1.4" />
<text x="355.50" y="298.30" font-size="13.3" text-anchor="start" fill="#1a1a1a" >100 μΩ cm</text>
<path d="M343.00,406.60 L381.00,440.00 L381.00,449.50 L343.00,416.10Z" fill="#7b7b7b" />
<path d="M381.00,440.00 L441.00,429.00 L441.00,438.98 L381.00,449.50Z" fill="#696969" />
<path d="M343.00,406.60 L398.00,398.20 L441.00,429.00 L381.00,440.00Z" fill="#8f8f8f" />
<path d="M355.00,398.50 L389.00,429.80 L389.00,435.30 L355.00,404.00Z" fill="#7a4b70" />
<path d="M389.00,429.80 L429.00,423.30 L429.00,428.80 L389.00,435.30Z" fill="#6c4262" />
<path d="M355.00,398.50 L388.50,393.90 L429.00,423.30 L389.00,429.80Z" fill="#8c5a80" />
<path d="M358.52,408.26 L364.64,413.90 L364.64,419.40 L358.52,413.76Z" fill="#7a4b70" />
<path d="M364.64,413.90 L370.64,412.90 L370.64,418.40 L364.64,419.40Z" fill="#6c4262" />
<path d="M364.52,407.26 L370.64,412.90 L364.64,413.90 L358.52,408.26Z" fill="#8c5a80" />
<path d="M364.64,413.90 L358.52,408.26 L358.52,406.46 L364.64,412.10Z" fill="#a3a32a" />
<path d="M372.64,412.60 L364.64,413.90 L364.64,412.10 L372.64,410.80Z" fill="#8c8c22" />
<path d="M358.52,406.46 L366.52,405.16 L372.64,410.80 L364.64,412.10Z" fill="#c9c93c" />
<path d="M411.20,404.66 L417.68,409.36 L417.68,414.86 L411.20,410.16Z" fill="#7a4b70" />
<path d="M417.68,409.36 L411.18,410.36 L411.18,415.86 L417.68,414.86Z" fill="#6c4262" />
<path d="M404.70,405.66 L411.18,410.36 L417.68,409.36 L411.20,404.66Z" fill="#8c5a80" />
<path d="M417.68,409.36 L411.20,404.66 L411.20,402.86 L417.68,407.56Z" fill="#a3a32a" />
<path d="M409.18,410.66 L417.68,409.36 L417.68,407.56 L409.18,408.86Z" fill="#8c8c22" />
<path d="M411.20,402.86 L402.70,404.16 L409.18,408.86 L417.68,407.56Z" fill="#c9c93c" />
<polyline points="366.3,409.5 366.3,374.3 379.2,372.5" fill="none" stroke="#111" stroke-width="1"/>
<polyline points="394.5,370.2 412.3,367.6 412.3,374.5" fill="none" stroke="#111" stroke-width="1"/>
<line x1="412.30" y1="389.80" x2="412.30" y2="403.00" stroke="#111" stroke-width="1" />
<circle cx="386.8" cy="371.4" r="7.8" fill="#fff" stroke="#111" stroke-width="1"/>
<text x="380.6" y="375.4" font-size="11" font-style="italic" fill="#1a1a1a">V<tspan font-size="6" dy="1.8" dx="-0.8">yx</tspan></text>
<circle cx="366.3" cy="409.8" r="1.7" fill="#000"/>
<circle cx="412.2" cy="403" r="1.7" fill="#000"/>
<line x1="377.4" y1="408.4" x2="376.99" y2="388.90" stroke="#333" stroke-width="1.1"/>
<path d="M376.90,384.40 L379.19,388.85 L374.79,388.94Z" fill="#333"/>
<line x1="377.4" y1="408.4" x2="392.87" y2="389.30" stroke="#111" stroke-width="1.1"/>
<path d="M395.70,385.80 L394.58,390.68 L391.16,387.91Z" fill="#111"/>
<line x1="377.4" y1="408.4" x2="391.75" y2="406.19" stroke="#111" stroke-width="1.1"/>
<path d="M396.20,405.50 L392.09,408.36 L391.42,404.01Z" fill="#111"/>
<line x1="377.4" y1="408.4" x2="385.76" y2="418.09" stroke="#111" stroke-width="1.1"/>
<path d="M388.70,421.50 L384.09,419.53 L387.43,416.66Z" fill="#111"/>
<path d="M377.2,401.6 Q380,401 382.8,402.8" fill="none" stroke="#111" stroke-width="1"/>
<text x="368.6" y="387.8" font-size="10.5" font-style="italic" fill="#1a1a1a">z</text>
<text x="380.3" y="388.4" font-size="10.5" font-style="italic" fill="#1a1a1a">θ<tspan font-size="7" dy="2.5">y</tspan></text>
<text x="402.5" y="386.6" font-size="10.5" fill="#1a1a1a"><tspan font-style="italic">μ</tspan><tspan font-size="7" dy="2.5">0</tspan><tspan dy="-2.5" font-style="italic">H</tspan></text>
<text x="396.8" y="413.8" font-size="10.5" font-style="italic" fill="#1a1a1a">y</text>
<text x="373.8" y="431.3" font-size="10.5" font-style="italic" fill="#1a1a1a">I // x</text>
<text x="398.6" y="444.8" font-size="10" fill="#1a1a1a">Al<tspan font-size="6.5" dy="1.5">2</tspan><tspan dy="-1.5">O</tspan><tspan font-size="6.5" dy="1.5">3</tspan></text>
<text x="431.6" y="413.8" font-size="10.4" fill="#1a1a1a">Co<tspan font-size="6.5" dy="1.5">3</tspan><tspan dy="-1.5">Sn</tspan><tspan font-size="6.5" dy="1.5">2</tspan><tspan dy="-1.5">S</tspan><tspan font-size="6.5" dy="1.5">2</tspan></text>
<line x1="431.00" y1="412.80" x2="419.50" y2="422.00" stroke="#111" stroke-width="1" />
<path d="M334.0,464.6 L355.8,464.2 L376.7,463.1 L396.6,461.3 L413.9,458.9 L422.0,457.4 L429.3,455.8 L436.6,453.9 L442.9,452.1 L449.3,449.9 L454.7,447.7 L460.2,445.3 L465.6,442.4 L470.1,439.7 L474.7,436.6 L479.2,433.0 L482.8,429.7 L486.5,425.9 L490.1,421.7 L493.7,416.7 L496.5,412.5 L499.2,407.7 L501.9,402.3 L504.6,396.1 L506.4,391.4 L509.2,383.4 L511.0,377.3 L514.6,362.7" fill="none" stroke="#111" stroke-width="1.7" stroke-linejoin="round" stroke-linecap="round" stroke-dasharray="5.6 4.4" stroke-linecap="butt"/>
<circle cx="334.00" cy="464.56" r="4.2" fill="#000"/>
<circle cx="357.16" cy="464.56" r="4.2" fill="#000"/>
<circle cx="380.31" cy="464.29" r="4.2" fill="#000"/>
<circle cx="403.47" cy="463.22" r="4.2" fill="#000"/>
<circle cx="426.62" cy="461.35" r="4.2" fill="#000"/>
<circle cx="449.78" cy="458.14" r="4.2" fill="#000"/>
<circle cx="472.93" cy="453.33" r="4.2" fill="#000"/>
<circle cx="496.09" cy="444.50" r="4.2" fill="#000"/>
<circle cx="519.24" cy="429.26" r="4.2" fill="#000"/>
<circle cx="542.40" cy="382.47" r="4.2" fill="#000"/>
<rect x="334.00" y="357.60" width="208.40" height="133.70" fill="none" stroke="#555" stroke-width="1"/>
<line x1="334.50" y1="491.30" x2="334.50" y2="485.80" stroke="#555" stroke-width="1.0" />
<line x1="334.50" y1="357.60" x2="334.50" y2="363.10" stroke="#555" stroke-width="1.0" />
<line x1="357.50" y1="491.30" x2="357.50" y2="485.80" stroke="#555" stroke-width="1.0" />
<line x1="357.50" y1="357.60" x2="357.50" y2="363.10" stroke="#555" stroke-width="1.0" />
<line x1="380.50" y1="491.30" x2="380.50" y2="485.80" stroke="#555" stroke-width="1.0" />
<line x1="380.50" y1="357.60" x2="380.50" y2="363.10" stroke="#555" stroke-width="1.0" />
<line x1="403.50" y1="491.30" x2="403.50" y2="485.80" stroke="#555" stroke-width="1.0" />
<line x1="403.50" y1="357.60" x2="403.50" y2="363.10" stroke="#555" stroke-width="1.0" />
<line x1="426.50" y1="491.30" x2="426.50" y2="485.80" stroke="#555" stroke-width="1.0" />
<line x1="426.50" y1="357.60" x2="426.50" y2="363.10" stroke="#555" stroke-width="1.0" />
<line x1="449.50" y1="491.30" x2="449.50" y2="485.80" stroke="#555" stroke-width="1.0" />
<line x1="449.50" y1="357.60" x2="449.50" y2="363.10" stroke="#555" stroke-width="1.0" />
<line x1="472.50" y1="491.30" x2="472.50" y2="485.80" stroke="#555" stroke-width="1.0" />
<line x1="472.50" y1="357.60" x2="472.50" y2="363.10" stroke="#555" stroke-width="1.0" />
<line x1="496.50" y1="491.30" x2="496.50" y2="485.80" stroke="#555" stroke-width="1.0" />
<line x1="496.50" y1="357.60" x2="496.50" y2="363.10" stroke="#555" stroke-width="1.0" />
<line x1="519.50" y1="491.30" x2="519.50" y2="485.80" stroke="#555" stroke-width="1.0" />
<line x1="519.50" y1="357.60" x2="519.50" y2="363.10" stroke="#555" stroke-width="1.0" />
<line x1="542.50" y1="491.30" x2="542.50" y2="485.80" stroke="#555" stroke-width="1.0" />
<line x1="542.50" y1="357.60" x2="542.50" y2="363.10" stroke="#555" stroke-width="1.0" />
<line x1="334.00" y1="491.50" x2="339.50" y2="491.50" stroke="#555" stroke-width="1.0" />
<line x1="542.40" y1="491.50" x2="536.90" y2="491.50" stroke="#555" stroke-width="1.0" />
<line x1="334.00" y1="464.50" x2="339.50" y2="464.50" stroke="#555" stroke-width="1.0" />
<line x1="542.40" y1="464.50" x2="536.90" y2="464.50" stroke="#555" stroke-width="1.0" />
<line x1="334.00" y1="437.50" x2="339.50" y2="437.50" stroke="#555" stroke-width="1.0" />
<line x1="542.40" y1="437.50" x2="536.90" y2="437.50" stroke="#555" stroke-width="1.0" />
<line x1="334.00" y1="411.50" x2="339.50" y2="411.50" stroke="#555" stroke-width="1.0" />
<line x1="542.40" y1="411.50" x2="536.90" y2="411.50" stroke="#555" stroke-width="1.0" />
<line x1="334.00" y1="384.50" x2="339.50" y2="384.50" stroke="#555" stroke-width="1.0" />
<line x1="542.40" y1="384.50" x2="536.90" y2="384.50" stroke="#555" stroke-width="1.0" />
<line x1="334.00" y1="357.50" x2="339.50" y2="357.50" stroke="#555" stroke-width="1.0" />
<line x1="542.40" y1="357.50" x2="536.90" y2="357.50" stroke="#555" stroke-width="1.0" />
<text x="331.20" y="495.90" font-size="13" text-anchor="end" fill="#1a1a1a" >0</text>
<text x="331.20" y="469.16" font-size="13" text-anchor="end" fill="#1a1a1a" >1</text>
<text x="331.20" y="442.42" font-size="13" text-anchor="end" fill="#1a1a1a" >2</text>
<text x="331.20" y="415.68" font-size="13" text-anchor="end" fill="#1a1a1a" >3</text>
<text x="331.20" y="388.94" font-size="13" text-anchor="end" fill="#1a1a1a" >4</text>
<text x="331.20" y="362.20" font-size="13" text-anchor="end" fill="#1a1a1a" >5</text>
<text x="334.00" y="506.80" font-size="13" text-anchor="middle" fill="#1a1a1a" >0</text>
<text x="357.16" y="506.80" font-size="13" text-anchor="middle" fill="#1a1a1a" >10</text>
<text x="380.31" y="506.80" font-size="13" text-anchor="middle" fill="#1a1a1a" >20</text>
<text x="403.47" y="506.80" font-size="13" text-anchor="middle" fill="#1a1a1a" >30</text>
<text x="426.62" y="506.80" font-size="13" text-anchor="middle" fill="#1a1a1a" >40</text>
<text x="449.78" y="506.80" font-size="13" text-anchor="middle" fill="#1a1a1a" >50</text>
<text x="472.93" y="506.80" font-size="13" text-anchor="middle" fill="#1a1a1a" >60</text>
<text x="496.09" y="506.80" font-size="13" text-anchor="middle" fill="#1a1a1a" >70</text>
<text x="519.24" y="506.80" font-size="13" text-anchor="middle" fill="#1a1a1a" >80</text>
<text x="542.40" y="506.80" font-size="13" text-anchor="middle" fill="#1a1a1a" >90</text>
<text x="438.5" y="525.9" font-size="13.3" text-anchor="middle" fill="#1a1a1a"><tspan font-style="italic">θ</tspan><tspan font-size="10" dy="3" font-style="italic">y</tspan><tspan dy="-3"> (degree)</tspan></text>
<text transform="translate(308,424.5) rotate(-90)" font-size="13" text-anchor="middle" fill="#1a1a1a"><tspan font-style="italic">μ</tspan><tspan font-size="10" dy="3">0</tspan><tspan dy="-3" font-style="italic">H</tspan><tspan font-size="10" dy="3">c</tspan><tspan dy="-3"> (</tspan><tspan font-style="italic">θ</tspan><tspan font-size="10" dy="3" font-style="italic">y</tspan><tspan dy="-3">)/</tspan><tspan font-style="italic">μ</tspan><tspan font-size="10" dy="3">0</tspan><tspan dy="-3" font-style="italic">H</tspan><tspan font-size="10" dy="3">c</tspan><tspan dy="-3"> (</tspan><tspan font-style="italic">θ</tspan><tspan font-size="10" dy="3" font-style="italic">y</tspan><tspan dy="-3"> = 0°)</tspan></text>
<text x="284.30" y="355.50" font-size="11.8" text-anchor="start" fill="#1a1a1a" >(d)</text>
<text x="431.80" y="377.30" font-size="13.3" text-anchor="start" fill="#1a1a1a" >Domain wall</text>
<text x="431.80" y="393.80" font-size="13.3" text-anchor="start" fill="#1a1a1a" >motion</text>
<text x="476.00" y="478.90" font-size="13.3" text-anchor="start" fill="#1a1a1a" ><tspan font-style="italic">T</tspan> = 150 K</text>
</svg></body></html>
